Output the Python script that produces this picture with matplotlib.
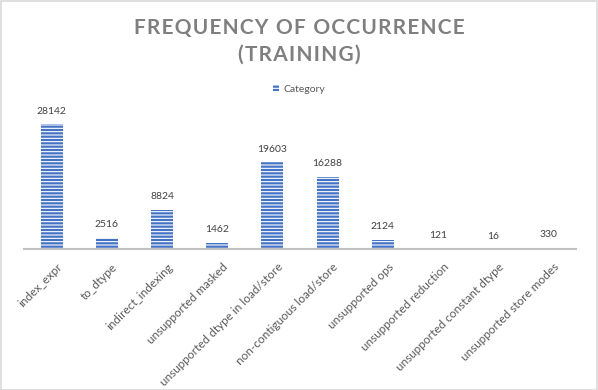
import matplotlib
matplotlib.use("Agg")
import matplotlib.pyplot as plt
from matplotlib.patches import Rectangle
from matplotlib.transforms import ScaledTranslation

categories = ["index_expr", "to_dtype", "indirect_indexing", "unsupported masked",
              "unsupported dtype in load/store", "non-contiguous load/store",
              "unsupported ops", "unsupported reduction", "unsupported constant dtype",
              "unsupported store modes"]
values = [28142, 2516, 8824, 1462, 19603, 16288, 2124, 121, 16, 330]
series_name = "Category"
title_lines = ["FREQUENCY OF OCCURRENCE", "(TRAINING)"]

blue = "#4472C4"
plt.rcParams['hatch.linewidth'] = 0.8

fig = plt.figure(figsize=(5.98, 3.90), dpi=100)
fig.patch.set_facecolor("white")
fig.add_artist(Rectangle((0.001, 0.001), 0.997, 0.996, transform=fig.transFigure,
                         fill=False, edgecolor="#D9D9D9", linewidth=1.2))

ax = fig.add_axes([24/598, 1-249/390, 552/598, 133.2/390])
x = list(range(len(categories)))
bars = ax.bar(x, values, width=0.4, color=blue, edgecolor="white", linewidth=0,
              hatch="-----", label=series_name)
ax.set_xlim(-0.5, len(categories)-0.5)
ax.set_ylim(0, 30000)
for s in ["top", "right", "left"]:
    ax.spines[s].set_visible(False)
ax.spines["bottom"].set_color("#BFBFBF")
ax.spines["bottom"].set_linewidth(1.5)
ax.set_yticks([])
ax.tick_params(axis="x", length=0, pad=9)
ax.set_xticks(x)
ax.set_xticklabels(categories, rotation=45, ha="right", va="top", rotation_mode="anchor",
                   fontsize=8.5, color="#595959", family="Lato")
shift = ScaledTranslation(5/100, 0, fig.dpi_scale_trans)
for lab in ax.get_xticklabels():
    lab.set_transform(lab.get_transform() + shift)

for xi, v in zip(x, values):
    ax.annotate(str(v), (xi, v), xytext=(0, 6), textcoords="offset points",
                ha="center", va="bottom", fontsize=7.5, color="#404040", family="Lato")

def spaced(s):
    return "\u200a".join(s)

fig.text(0.5, 1-28/390, spaced(title_lines[0]), ha="center", va="center",
         fontsize=15, fontweight="bold", color="#7F7F7F", family="Lato")
fig.text(0.5, 1-55/390, spaced(title_lines[1]), ha="center", va="center",
         fontsize=15, fontweight="bold", color="#7F7F7F", family="Lato")

leg = fig.legend(handles=[bars], labels=[series_name], loc="center",
                 bbox_to_anchor=(0.5, 1-89/390), frameon=False,
                 handlelength=0.6, handleheight=0.6, handletextpad=0.4,
                 prop={"family": "Lato", "size": 7.5})
for t in leg.get_texts():
    t.set_color("#595959")

fig.savefig("out.png", dpi=100)
